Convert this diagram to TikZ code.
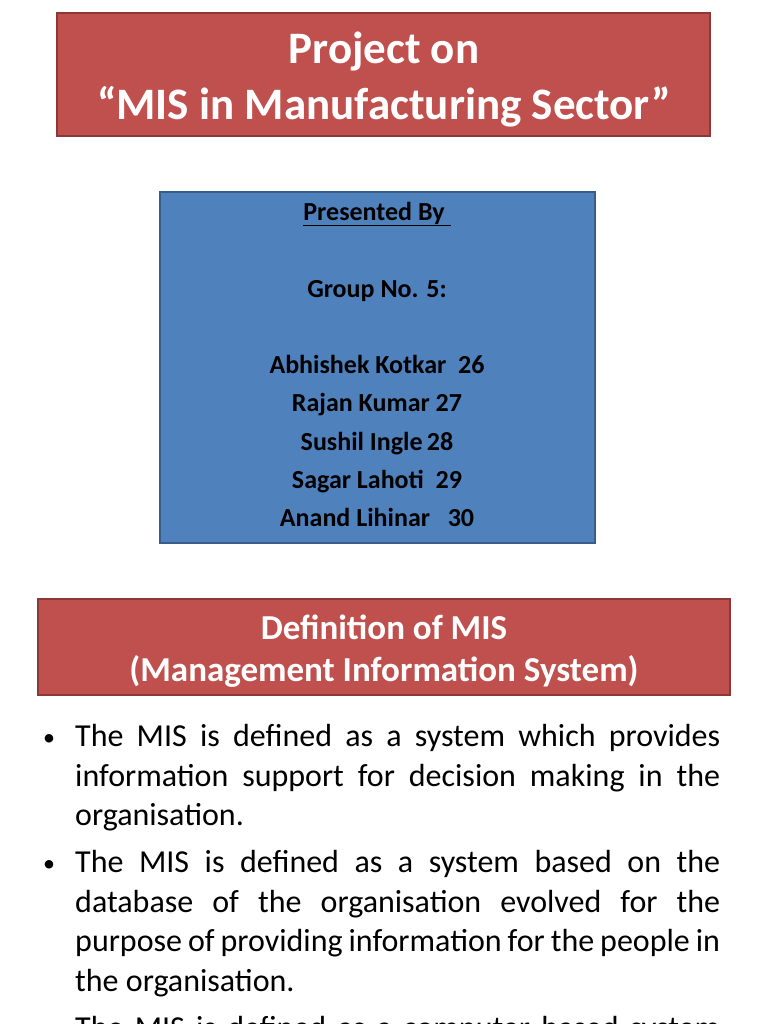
\documentclass[tikz,border=0pt]{standalone}
\usepackage{fontspec}
\setmainfont{Carlito}
\definecolor{rd}{HTML}{C0504D}
\definecolor{rdb}{HTML}{8C3836}
\definecolor{bl}{HTML}{4F81BD}
\definecolor{blb}{HTML}{385D8A}
\tikzset{redbox/.style={fill=rd,draw=rdb,line width=1.2pt},
bluebox/.style={fill=bl,draw=blb,line width=1.2pt},
wt/.style={text=white,font=\bfseries,align=center,inner sep=0}}
\begin{document}
\begin{tikzpicture}[x=1pt,y=-1pt]
\useasboundingbox (0,0) rectangle (768,1024);
\clip (0,0) rectangle (768,1024);
\fill[white] (0,0) rectangle (768,1024);
\draw[redbox] (57,13) rectangle (710,136);
\node[wt,font=\fontsize{45}{56}\bfseries\selectfont] (t1) at (384,80) {Project on\\``MIS in Manufacturing Sector''};
\draw[bluebox] (160,192) rectangle (595,543);
\node[inner sep=0,font=\fontsize{26}{30}\bfseries\selectfont] (p) at (377,214) {\underline{Presented By\ }};
\node[inner sep=0,font=\fontsize{26}{30}\bfseries\selectfont] (g) at (377,291) {Group No. 5:};
\node[inner sep=0,font=\fontsize{26}{38.3}\bfseries\selectfont,align=center,anchor=north] (n) at (377,355) {Abhishek Kotkar\ \ 26\\Rajan Kumar\ 27\\Sushil Ingle\,28\\Sagar Lahoti\ \ 29\\Anand Lihinar\ \ \ 30};
\draw[redbox] (38,599) rectangle (730,695);
\node[wt,font=\fontsize{35}{42}\bfseries\selectfont] (t2) at (384,651) {Definition of MIS\\(Management Information System)};
\node[inner sep=0,anchor=north west,text width=677pt,align=justify,font=\fontsize{32}{39.6}\selectfont] (b) at (43,724) {%
\setlength{\parindent}{0pt}\setlength{\parskip}{7.5pt}\hyphenpenalty=10000\exhyphenpenalty=10000%
\hangindent=32pt\hangafter=1\makebox[32pt][l]{\raisebox{1pt}{\fontsize{24}{24}\selectfont•}}The MIS is defined as a system which provides information support for decision making in the organisation.\par
\hangindent=32pt\hangafter=1\makebox[32pt][l]{\raisebox{1pt}{\fontsize{24}{24}\selectfont•}}The MIS is defined as a system based on the database of the organisation evolved for the purpose of providing information for the people in the organisation.\par
\hangindent=32pt\hangafter=1\makebox[32pt][l]{\raisebox{1pt}{\fontsize{24}{24}\selectfont•}}The MIS is defined as a computer based system that provides information for the people in the organisation.\par};
\end{tikzpicture}
\end{document}
